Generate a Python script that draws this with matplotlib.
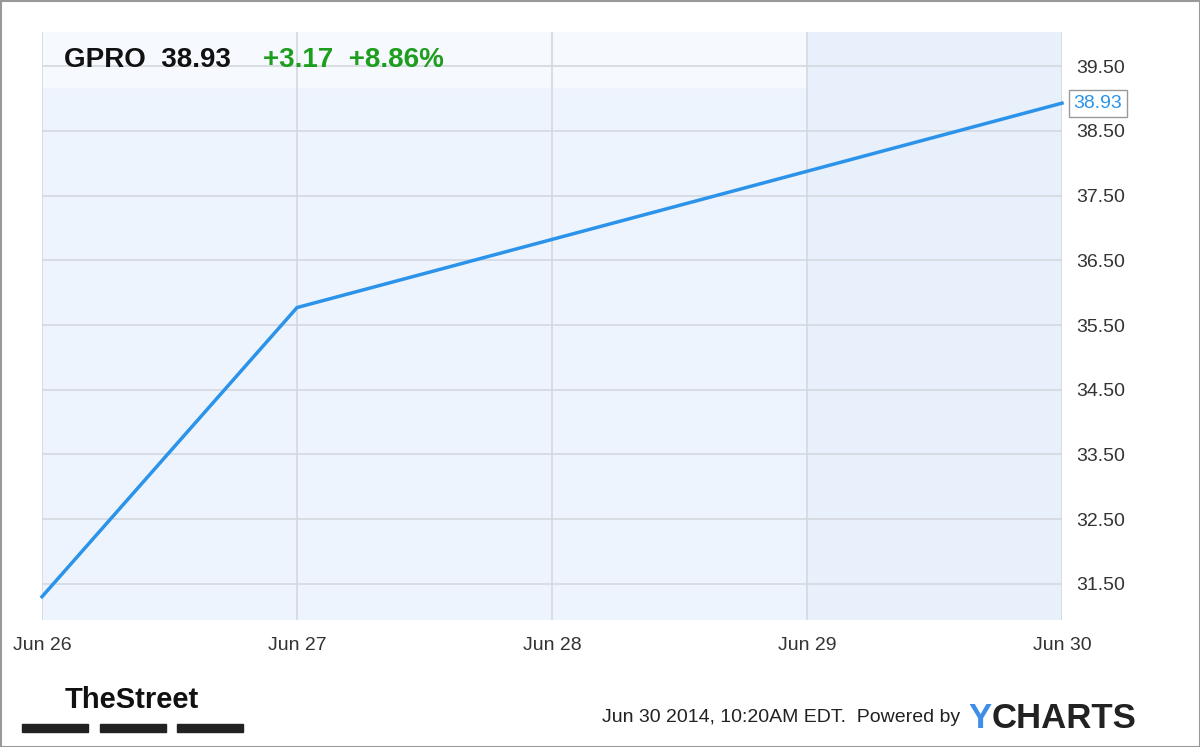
import matplotlib
matplotlib.use("Agg")
import matplotlib.pyplot as plt
from matplotlib.patches import Rectangle

plt.rcParams['font.family'] = ['Liberation Sans', 'DejaVu Sans']

dates = [0, 1, 4]
date_labels = ["Jun 26", "Jun 27", "Jun 28", "Jun 29", "Jun 30"]
prices = [31.30, 35.77, 38.93]
yticks = [31.5, 32.5, 33.5, 34.5, 35.5, 36.5, 37.5, 38.5, 39.5]

W, H = 1200, 747
fig = plt.figure(figsize=(W/100, H/100), dpi=100)
fig.patch.set_facecolor("white")
ax = fig.add_axes([42/W, 1-620/H, 1020/W, 588/H])
ax.set_facecolor("#e8f0fc")
ax.set_xlim(0, 4)
ax.set_ylim(30.94, 40.03)
ax.add_patch(Rectangle((0, 0), 3, 1, transform=ax.get_xaxis_transform(), color="#eef4fd", zorder=0))
ax.add_patch(Rectangle((0, 39.18), 3, 2, color="#f6f9fe", zorder=0))
ax.grid(True, color="#d4d8de", lw=1.2)
ax.set_axisbelow(True)
ax.plot(dates, prices, color="#2b93ea", lw=2.5, zorder=3, clip_on=False)
ax.set_xticks(range(5))
ax.set_xticklabels(date_labels)
ax.set_yticks(yticks)
ax.set_yticklabels([f"{v:.2f}" for v in yticks])
ax.yaxis.tick_right()
ax.tick_params(length=0, labelsize=14, colors="#333333", pad=10)
ax.tick_params(axis="x", pad=12)
for s in ax.spines.values():
    s.set_visible(False)
ax.text(4.045, prices[-1], f"{prices[-1]:.2f}", color="#2b93ea", fontsize=14, va="center", ha="left",
        bbox=dict(boxstyle="square,pad=0.25", fc="white", ec="#999999"), clip_on=False)
fig.text(64/W, 1-60/H, "GPRO  38.93", fontsize=20, weight="bold", color="#111111", va="center")
fig.text(263/W, 1-60/H, "+3.17  +8.86%", fontsize=20, weight="bold", color="#1e9e1e", va="center")
fig.text(132/W, 1-700/H, "TheStreet", fontsize=21, weight="bold", color="#111111", ha="center", va="center", fontstretch="condensed")
for x0 in (22, 100, 177):
    fig.add_artist(Rectangle((x0/W, 1-732/H), 66/W, 8/H, color="#222222", transform=fig.transFigure))
fig.text(960/W, 1-718/H, "Jun 30 2014, 10:20AM EDT.  Powered by", fontsize=14, color="#222222", ha="right", va="center")
fig.text(968/W, 1-718/H, "Y", fontsize=25, weight="bold", color="#3d8ee8", ha="left", va="center")
fig.text(992/W, 1-718/H, "CHARTS", fontsize=25, weight="bold", color="#222222", ha="left", va="center")
fig.add_artist(Rectangle((0.5/W, 0.5/H), 1-1/W, 1-1/H, fill=False, ec="#999999", lw=1.5, transform=fig.transFigure))
fig.savefig("out.png", dpi=100)
